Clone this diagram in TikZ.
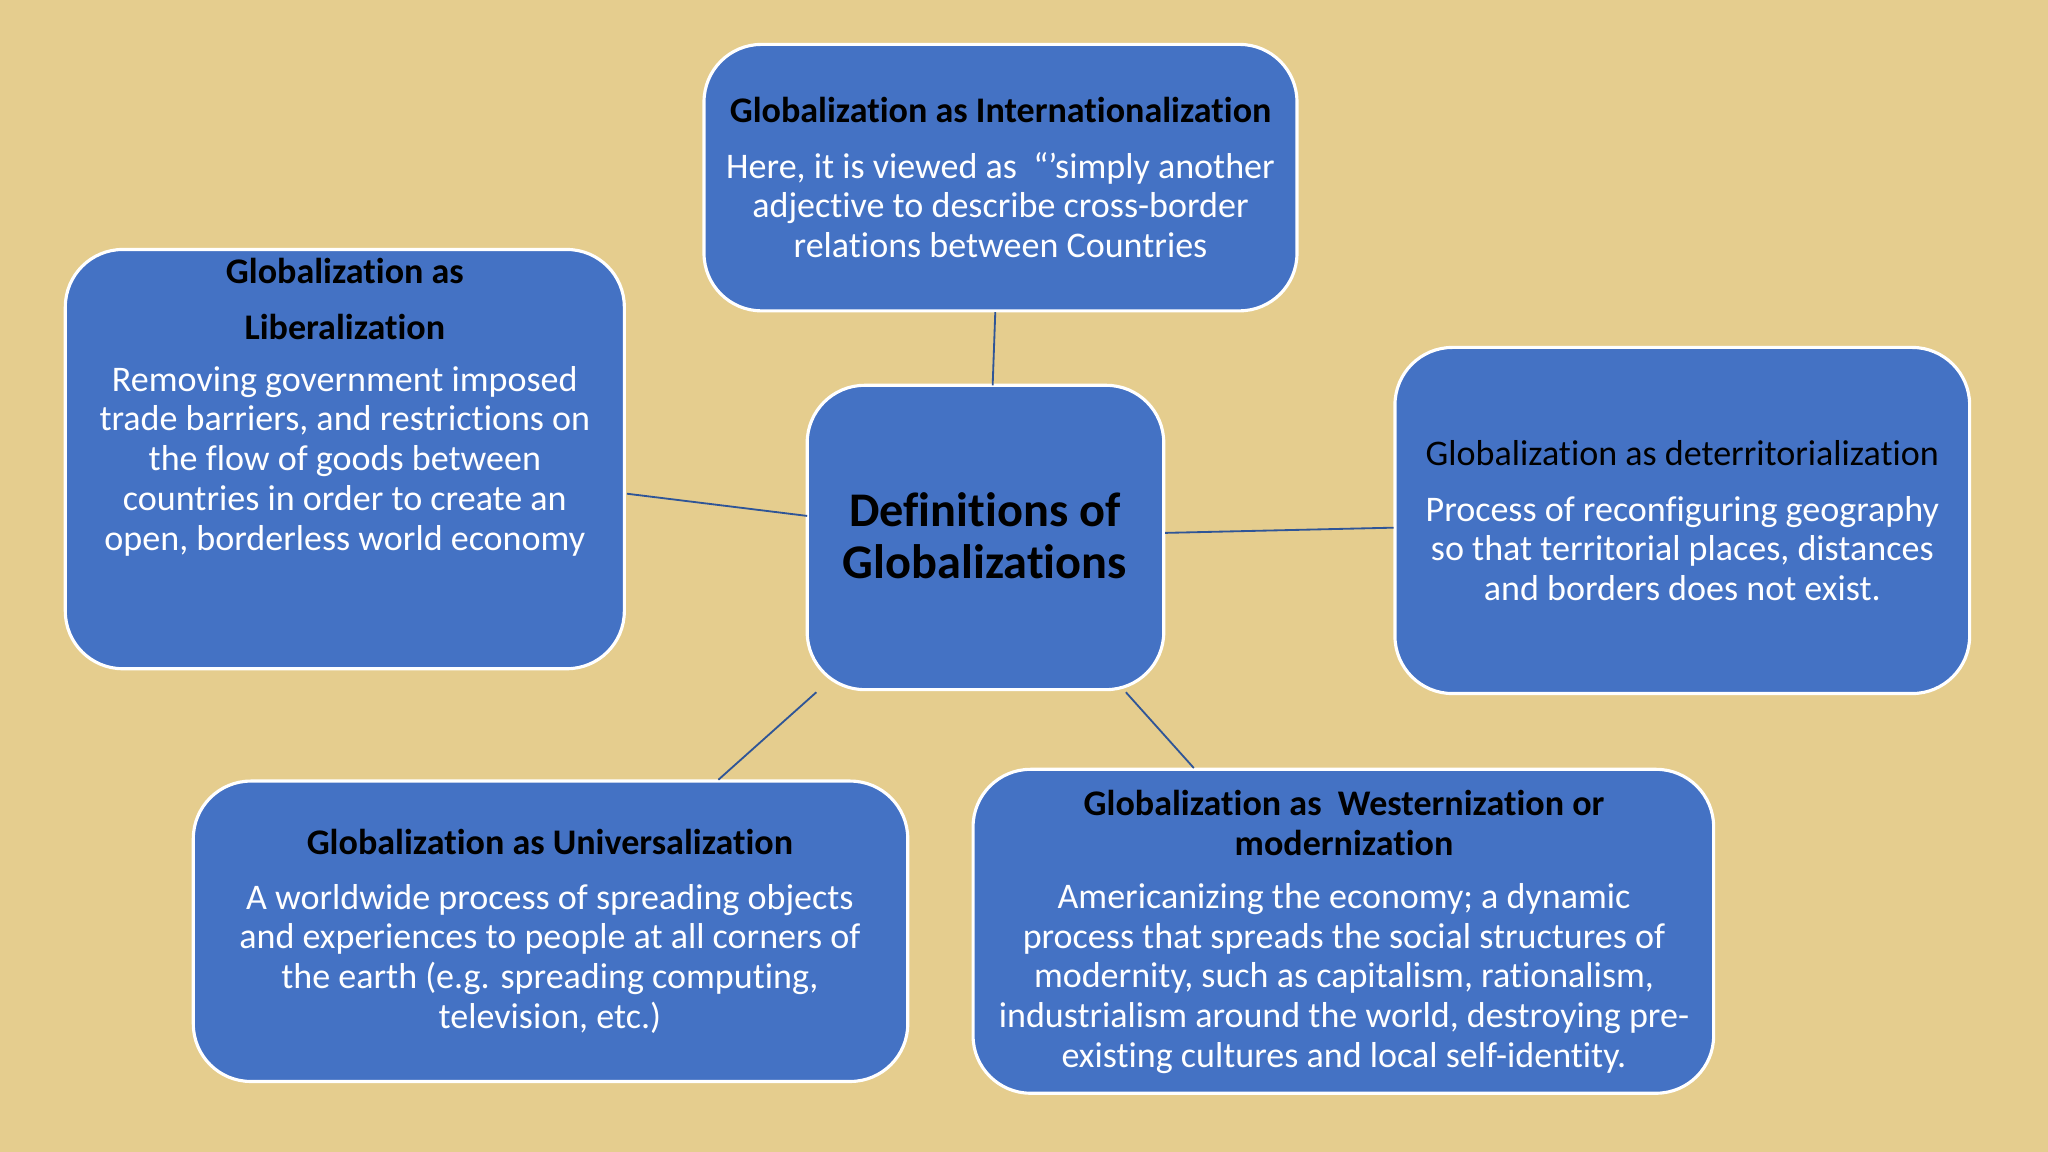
\documentclass[tikz,border=0pt]{standalone}
\usepackage{fontspec}
\setmainfont{Carlito}[Ligatures={NoCommon}]
\definecolor{bg}{HTML}{E5CD8E}
\definecolor{boxb}{HTML}{4472C4}
\definecolor{lnc}{HTML}{2F5597}
\begin{document}
\begin{tikzpicture}[x=0.5pt,y=-0.5pt,
  bx/.style={draw=white,line width=1.2pt,fill=boxb,rounded corners=22pt},
  tx/.style={text=white,align=center,font=\fontsize{13.8}{15.2}\selectfont,inner sep=0pt},
  ln/.style={draw=lnc,line width=0.7pt}]
\fill[bg] (0,0) rectangle (1568,882);
\useasboundingbox (0,0) rectangle (1568,882);
\draw[bx] (539,34) rectangle (993,238);
\draw[bx] (50,191) rectangle (478,512);
\draw[bx] (618,295) rectangle (891,528);
\draw[bx] (1068,266) rectangle (1508,531);
\draw[bx] (148,598) rectangle (695,828);
\draw[bx] (745,589) rectangle (1312,837);
\node[tx,text=black] (t1) at (766,84) {\textbf{Globalization as Internationalization}};
\node[tx] (b1) at (766,157) {Here, it is viewed as \ “’simply another\\adjective to describe cross-border\\relations between Countries};
\node[tx,text=black,font=\fontsize{13.8}{21.5}\selectfont] (t2) at (264,229) {\textbf{Globalization as}\\\textbf{Liberalization}};
\node[tx] (b2) at (264,353) {Removing government imposed\\trade barriers, and restrictions on\\the flow of goods between\\countries in order to create an\\open, borderless world economy};
\node[tx,text=black,font=\fontsize{18.5}{20}\selectfont\bfseries] (c) at (754,410) {Definitions of\\Globalizations};
\node[tx,text=black] (t3) at (1288,347) {Globalization as deterritorialization};
\node[tx] (b3) at (1288,420) {Process of reconfiguring geography\\so that territorial places, distances\\and borders does not exist.};
\node[tx,text=black] (t4) at (421,645) {\textbf{Globalization as Universalization}};
\node[tx] (b4) at (421,734) {A worldwide process of spreading objects\\and experiences to people at all corners of\\the earth (e.g. spreading computing,\\television, etc.)};
\node[tx,text=black] (t5) at (1029,630) {\textbf{Globalization as \ Westernization or}\\\textbf{modernization}};
\node[tx] (b5) at (1029,749) {Americanizing the economy; a dynamic\\process that spreads the social structures of\\modernity, such as capitalism, rationalism,\\industrialism around the world, destroying pre-\\existing cultures and local self-identity.};
\coordinate (a1) at (762,239); \coordinate (a2) at (760,295);
\coordinate (l1) at (480,378); \coordinate (l2) at (618,395);
\coordinate (r1) at (892,408); \coordinate (r2) at (1067,404);
\coordinate (s1) at (625,530); \coordinate (s2) at (550,597);
\coordinate (e1) at (862,530); \coordinate (e2) at (914,588);
\draw[ln] (a1)--(a2); \draw[ln] (l1)--(l2); \draw[ln] (r1)--(r2);
\draw[ln] (s1)--(s2); \draw[ln] (e1)--(e2);
\end{tikzpicture}
\end{document}
